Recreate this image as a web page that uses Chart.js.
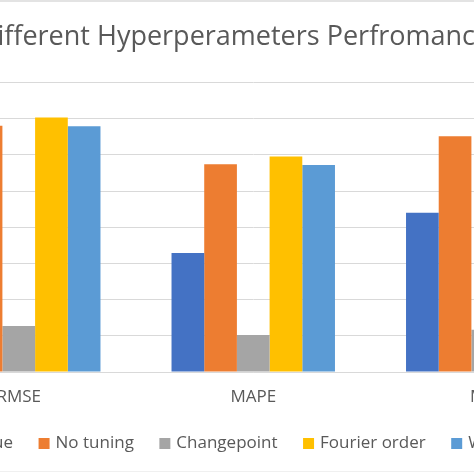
<!DOCTYPE html>
<html>
<head>
<meta charset="utf-8">
<script src="https://cdn.jsdelivr.net/npm/chart.js@4.4.0/dist/chart.umd.min.js"></script>
<style>
  html, body { margin: 0; padding: 0; background: #fff; }
  #wrap { position: relative; width: 474px; height: 474px; overflow: hidden; }
  #wrap:before { content: ''; position: absolute; left: 0; right: 0; top: 0; height: 2px; background: #e3e3e3; z-index: 2; }
  #wrap:after { content: ''; position: absolute; left: 0; right: 0; top: 471px; height: 1px; background: #f0f0f0; z-index: 2; }
  #chart { position: absolute; left: -266px; top: 0; }
</style>
</head>
<body>
<div id="wrap"><canvas id="chart" width="1000" height="474"></canvas></div>
<script>
// метрики и серии (значения в делениях сетки, шкала 0..8)
const categories = ['RMSE', 'MAPE', 'MAE'];
const seriesNames = ['Default value', 'No tuning', 'Changepoint', 'Fourier order', 'Weekly effect'];
const defaultValue = [4.6, 3.29, 4.40];
const noTuning = [6.80, 5.74, 6.51];
const changepoint = [1.27, 1.02, 1.17];
const fourierOrder = [7.03, 5.95, 6.70];
const weekly = [6.79, 5.72, 6.50];
const yTicks = [0, 1, 2, 3, 4, 5, 6, 7, 8];

const colors = ['#4472C4', '#ED7D31', '#A5A5A5', '#FFC000', '#5B9BD5'];
const values = [defaultValue, noTuning, changepoint, fourierOrder, weekly];
const textColor = '#595959';

new Chart(document.getElementById('chart'), {
    type: 'bar',
    data: {
        labels: categories,
        datasets: seriesNames.map((name, i) => ({
            label: name,
            data: values[i],
            backgroundColor: colors[i],
            borderWidth: 0,
            pointStyle: 'rect',
            categoryPercentage: 0.697,
            barPercentage: 1
        }))
    },
    options: {
        responsive: false,
        animation: false,
        layout: { padding: { top: 0, bottom: 12, left: 0, right: 0 } },
        scales: {
            x: {
                grid: { display: false, drawTicks: false },
                border: { color: '#d9d9d9', width: 1 },
                ticks: { color: textColor, font: { family: 'Open Sans', size: 17 }, padding: 15 },
                afterFit: (scale) => { scale.height = 35; }
            },
            y: {
                min: 0, max: yTicks[yTicks.length - 1],
                ticks: { display: false, stepSize: 1 },
                grid: { color: '#d9d9d9', lineWidth: 1, drawTicks: false },
                border: { display: false },
                afterFit: (scale) => { scale.width = 167.5; }
            },
            // пустая ось справа, только чтобы сдвинуть область графика
            y2: {
                position: 'right',
                ticks: { display: false },
                grid: { display: false, drawTicks: false },
                border: { display: false },
                afterFit: (scale) => { scale.width = 129; }
            }
        },
        plugins: {
            title: {
                display: true,
                text: 'Different Hyperperameters Perfromance',
                color: textColor,
                font: { family: 'Open Sans', size: 27, weight: 'normal' },
                padding: { top: 21, bottom: 29 }
            },
            legend: {
                position: 'bottom',
                labels: {
                    color: textColor,
                    font: { family: 'Open Sans', size: 17 },
                    usePointStyle: true,
                    boxWidth: 6, boxHeight: 11,
                    padding: 28
                }
            },
            tooltip: { enabled: false }
        }
    }
});
</script>
</body>
</html>
